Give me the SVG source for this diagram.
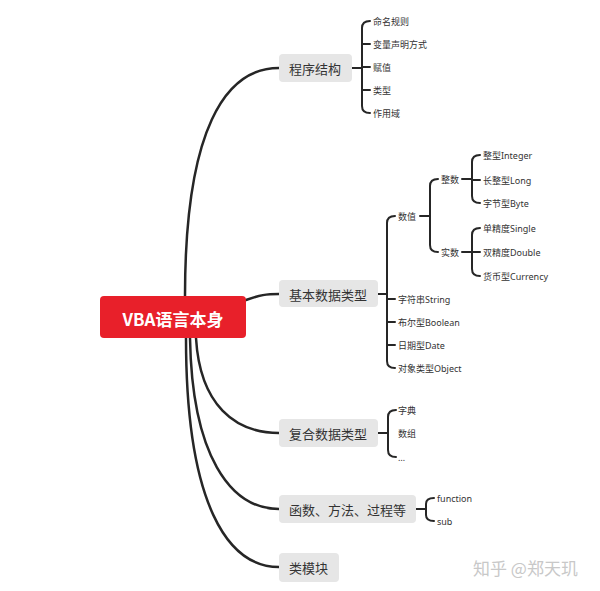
<svg xmlns="http://www.w3.org/2000/svg" width="600" height="591" viewBox="0 0 600 591">
<style>
.c{fill:none;stroke:#262626;stroke-width:2.5;stroke-linecap:round}
.b{fill:none;stroke:#262626;stroke-width:2;stroke-linecap:round}
.m{fill:#e6e6e6}
.mt{font-family:"Noto Sans CJK SC","Noto Sans",sans-serif;font-size:13px;fill:#333;dominant-baseline:central}
.s{font-family:"Noto Sans","Noto Sans CJK SC",sans-serif;font-size:9px;fill:#333;dominant-baseline:central}
.sb{fill:#f6f6f6}
</style>
<rect width="600" height="591" fill="#fff"/>
<g id="connectors">
<path class="c" d="M185,296 C185,130 225,68 279,68"/>
<path class="c" d="M246,300 C260,295 266,294 279,294"/>
<path class="c" d="M196,338 C200,405 235,433 279,433"/>
<path class="c" d="M190,338 C192,455 230,509 279,509"/>
<path class="c" d="M186,338 C186,505 228,567 279,567"/>
<path class="b" d="M352,68 H362 M370,21 Q362,21 362,28 V106 Q362,113 370,113 M362,44 H370 M362,67 H370 M362,90 H370"/>
<path class="b" d="M378,294 H387 M395,216 Q387,216 387,223 V361 Q387,368 395,368 M387,299 H395 M387,322 H395 M387,345 H395"/>
<path class="b" d="M420,216 H430 M438,179 Q430,179 430,186 V245 Q430,252 438,252"/>
<path class="b" d="M462,179 H472 M480,155 Q472,155 472,162 V196 Q472,203 480,203 M472,180 H480"/>
<path class="b" d="M462,252 H472 M480,228 Q472,228 472,235 V269 Q472,276 480,276 M472,252 H480"/>
<path class="b" d="M378,433 H388 M396,410 Q388,410 388,417 V450 Q388,457 396,457"/>
<path class="b" d="M416,509 H426 M434,498 Q426,498 426,504 V515 Q426,521 434,521"/>
</g>
<g id="root"><rect x="100" y="296" width="146" height="42" rx="4" fill="#e8202a"/>
<text x="173" y="318" text-anchor="middle" font-family="'Noto Sans CJK SC',sans-serif" font-weight="bold" font-size="17" fill="#fff" dominant-baseline="central">VBA语言本身</text></g>
<g id="n1"><rect class="m" x="279" y="54" width="73" height="28" rx="4"/><text class="mt" x="289" y="68">程序结构</text></g>
<g id="n2"><rect class="m" x="279" y="280" width="99" height="27" rx="4"/><text class="mt" x="289" y="294">基本数据类型</text></g>
<g id="n3"><rect class="m" x="279" y="419" width="99" height="28" rx="4"/><text class="mt" x="289" y="433">复合数据类型</text></g>
<g id="n4"><rect class="m" x="279" y="495" width="137" height="28" rx="4"/><text class="mt" x="289" y="509">函数、方法、过程等</text></g>
<g id="n5"><rect class="m" x="279" y="553" width="60" height="29" rx="4"/><text class="mt" x="289" y="567">类模块</text></g>
<g id="leaves">
<text class="s" x="373" y="21">命名规则</text>
<text class="s" x="373" y="44">变量声明方式</text>
<text class="s" x="373" y="67">赋值</text>
<text class="s" x="373" y="90">类型</text>
<text class="s" x="373" y="113">作用域</text>
<text class="s" x="398" y="216">数值</text>
<text class="s" x="441" y="179">整数</text>
<text class="s" x="441" y="252">实数</text>
<text class="s" x="483" y="155">整型Integer</text>
<text class="s" x="483" y="180">长整型Long</text>
<text class="s" x="483" y="203">字节型Byte</text>
<text class="s" x="483" y="228">单精度Single</text>
<text class="s" x="483" y="252">双精度Double</text>
<text class="s" x="483" y="276">货币型Currency</text>
<text class="s" x="398" y="299">字符串String</text>
<text class="s" x="398" y="322">布尔型Boolean</text>
<text class="s" x="398" y="345">日期型Date</text>
<text class="s" x="398" y="368">对象类型Object</text>
<text class="s" x="398" y="410">字典</text>
<text class="s" x="398" y="433">数组</text>
<text class="s" x="398" y="457">…</text>
<text class="s" x="437" y="498">function</text>
<text class="s" x="437" y="521">sub</text>
</g>
<text x="473" y="567" font-family="'Noto Sans CJK SC',sans-serif" font-size="17" fill="#c8c8c8" dominant-baseline="central">知乎 @郑天玑</text>
</svg>
